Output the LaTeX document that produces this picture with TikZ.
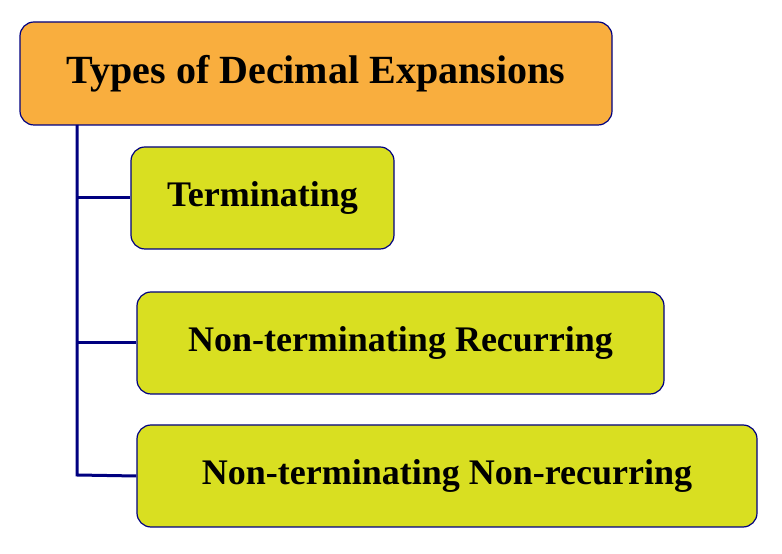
\documentclass[tikz,border=0pt]{standalone}
\usepackage{fontspec}
\setmainfont{Liberation Serif}
\begin{document}
\begin{tikzpicture}[x=1pt,y=1pt,
  box/.style={draw=blue!50!black,line width=1.2pt,rounded corners=14pt,fill=lime!70!yellow!90!black,minimum height=102pt,font=\bfseries\fontsize{36}{40}\selectfont,inner sep=0pt},
  conn/.style={draw=blue!50!black,line width=3pt}]
\definecolor{org}{HTML}{F9AE3E}
\definecolor{lim}{HTML}{D9DF21}
\useasboundingbox (0,0) rectangle (782,554);
\node[box,fill=org,minimum width=592pt,minimum height=103pt,font=\bfseries\fontsize{40}{44}\selectfont] (top) at (316,480.5) {Types of Decimal Expansions};
\node[box,fill=lim,minimum width=263pt] (b1) at (262.5,356) {Terminating};
\node[box,fill=lim,minimum width=527pt] (b2) at (400.5,211) {Non-terminating Recurring};
\node[box,fill=lim,minimum width=620pt] (b3) at (447,78) {Non-terminating Non-recurring};
\coordinate (s) at (77,429);
\coordinate (e) at (77,79);
\draw[conn] (s) -- (e) -- (b3.west);
\draw[conn] (s |- b1.west) -- (b1.west);
\draw[conn] (s |- b2.west) -- (b2.west);
\end{tikzpicture}
\end{document}
